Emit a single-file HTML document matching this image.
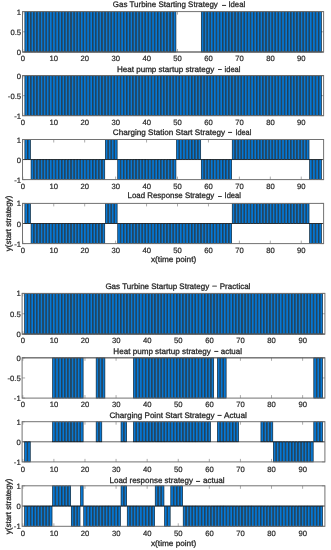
<!DOCTYPE html>
<html><head><meta charset="utf-8"><title>Start strategy charts</title>
<style>html,body{margin:0;padding:0;background:#fff}svg{display:block}text{stroke:#262626;stroke-width:.2px;text-rendering:geometricPrecision}.t text{stroke-width:.28px}</style></head>
<body>
<svg width="331" height="550" viewBox="0 0 331 550" font-family="Liberation Sans, Arial, Helvetica, sans-serif" fill="#262626">
<rect width="331" height="550" fill="#fff"/>
<path d="M22.80 52.00v-3M22.80 11.60v3M53.74 52.00v-3M53.74 11.60v3M84.68 52.00v-3M84.68 11.60v3M115.62 52.00v-3M115.62 11.60v3M146.56 52.00v-3M146.56 11.60v3M177.50 52.00v-3M177.50 11.60v3M208.44 52.00v-3M208.44 11.60v3M239.38 52.00v-3M239.38 11.60v3M270.32 52.00v-3M270.32 11.60v3M301.26 52.00v-3M301.26 11.60v3M22.50 52.00h3M323.60 52.00h-3M22.50 31.80h3M323.60 31.80h-3M22.50 11.60h3M323.60 11.60h-3" stroke="#727272" stroke-width="0.6" fill="none"/>
<g fill="#0a78d2" stroke="#051c2c" stroke-width="0.66"><rect x="24.89" y="11.60" width="2.48" height="40.40"/><rect x="27.98" y="11.60" width="2.48" height="40.40"/><rect x="31.08" y="11.60" width="2.48" height="40.40"/><rect x="34.17" y="11.60" width="2.48" height="40.40"/><rect x="37.27" y="11.60" width="2.48" height="40.40"/><rect x="40.36" y="11.60" width="2.48" height="40.40"/><rect x="43.46" y="11.60" width="2.48" height="40.40"/><rect x="46.55" y="11.60" width="2.48" height="40.40"/><rect x="49.65" y="11.60" width="2.48" height="40.40"/><rect x="52.74" y="11.60" width="2.48" height="40.40"/><rect x="55.84" y="11.60" width="2.48" height="40.40"/><rect x="58.93" y="11.60" width="2.48" height="40.40"/><rect x="62.03" y="11.60" width="2.48" height="40.40"/><rect x="65.12" y="11.60" width="2.48" height="40.40"/><rect x="68.22" y="11.60" width="2.48" height="40.40"/><rect x="71.31" y="11.60" width="2.48" height="40.40"/><rect x="74.41" y="11.60" width="2.48" height="40.40"/><rect x="77.50" y="11.60" width="2.48" height="40.40"/><rect x="80.60" y="11.60" width="2.48" height="40.40"/><rect x="83.69" y="11.60" width="2.48" height="40.40"/><rect x="86.79" y="11.60" width="2.48" height="40.40"/><rect x="89.88" y="11.60" width="2.48" height="40.40"/><rect x="92.98" y="11.60" width="2.48" height="40.40"/><rect x="96.07" y="11.60" width="2.48" height="40.40"/><rect x="99.17" y="11.60" width="2.48" height="40.40"/><rect x="102.26" y="11.60" width="2.48" height="40.40"/><rect x="105.36" y="11.60" width="2.48" height="40.40"/><rect x="108.45" y="11.60" width="2.48" height="40.40"/><rect x="111.55" y="11.60" width="2.48" height="40.40"/><rect x="114.64" y="11.60" width="2.48" height="40.40"/><rect x="117.74" y="11.60" width="2.48" height="40.40"/><rect x="120.83" y="11.60" width="2.48" height="40.40"/><rect x="123.93" y="11.60" width="2.48" height="40.40"/><rect x="127.02" y="11.60" width="2.48" height="40.40"/><rect x="130.12" y="11.60" width="2.48" height="40.40"/><rect x="133.21" y="11.60" width="2.48" height="40.40"/><rect x="136.31" y="11.60" width="2.48" height="40.40"/><rect x="139.40" y="11.60" width="2.48" height="40.40"/><rect x="142.50" y="11.60" width="2.48" height="40.40"/><rect x="145.59" y="11.60" width="2.48" height="40.40"/><rect x="148.69" y="11.60" width="2.48" height="40.40"/><rect x="151.78" y="11.60" width="2.48" height="40.40"/><rect x="154.88" y="11.60" width="2.48" height="40.40"/><rect x="157.97" y="11.60" width="2.48" height="40.40"/><rect x="161.07" y="11.60" width="2.48" height="40.40"/><rect x="164.16" y="11.60" width="2.48" height="40.40"/><rect x="167.26" y="11.60" width="2.48" height="40.40"/><rect x="170.35" y="11.60" width="2.48" height="40.40"/><rect x="173.45" y="11.60" width="2.48" height="40.40"/><rect x="201.30" y="11.60" width="2.48" height="40.40"/><rect x="204.40" y="11.60" width="2.48" height="40.40"/><rect x="207.49" y="11.60" width="2.48" height="40.40"/><rect x="210.59" y="11.60" width="2.48" height="40.40"/><rect x="213.68" y="11.60" width="2.48" height="40.40"/><rect x="216.78" y="11.60" width="2.48" height="40.40"/><rect x="219.87" y="11.60" width="2.48" height="40.40"/><rect x="222.97" y="11.60" width="2.48" height="40.40"/><rect x="226.06" y="11.60" width="2.48" height="40.40"/><rect x="229.16" y="11.60" width="2.48" height="40.40"/><rect x="232.25" y="11.60" width="2.48" height="40.40"/><rect x="235.35" y="11.60" width="2.48" height="40.40"/><rect x="238.44" y="11.60" width="2.48" height="40.40"/><rect x="241.54" y="11.60" width="2.48" height="40.40"/><rect x="244.63" y="11.60" width="2.48" height="40.40"/><rect x="247.73" y="11.60" width="2.48" height="40.40"/><rect x="250.82" y="11.60" width="2.48" height="40.40"/><rect x="253.92" y="11.60" width="2.48" height="40.40"/><rect x="257.01" y="11.60" width="2.48" height="40.40"/><rect x="260.11" y="11.60" width="2.48" height="40.40"/><rect x="263.20" y="11.60" width="2.48" height="40.40"/><rect x="266.30" y="11.60" width="2.48" height="40.40"/><rect x="269.39" y="11.60" width="2.48" height="40.40"/><rect x="272.49" y="11.60" width="2.48" height="40.40"/><rect x="275.58" y="11.60" width="2.48" height="40.40"/><rect x="278.68" y="11.60" width="2.48" height="40.40"/><rect x="281.77" y="11.60" width="2.48" height="40.40"/><rect x="284.87" y="11.60" width="2.48" height="40.40"/><rect x="287.96" y="11.60" width="2.48" height="40.40"/><rect x="291.06" y="11.60" width="2.48" height="40.40"/><rect x="294.15" y="11.60" width="2.48" height="40.40"/><rect x="297.25" y="11.60" width="2.48" height="40.40"/><rect x="300.34" y="11.60" width="2.48" height="40.40"/><rect x="303.44" y="11.60" width="2.48" height="40.40"/><rect x="306.53" y="11.60" width="2.48" height="40.40"/><rect x="309.63" y="11.60" width="2.48" height="40.40"/><rect x="312.72" y="11.60" width="2.48" height="40.40"/><rect x="315.82" y="11.60" width="2.48" height="40.40"/><rect x="318.91" y="11.60" width="2.48" height="40.40"/></g>
<path d="M22.50 52.00H323.60" stroke="#222" stroke-width="0.7" fill="none"/>
<rect x="22.50" y="11.60" width="301.10" height="40.40" fill="none" stroke="#727272" stroke-width="1"/>
<g font-size="7.7" text-anchor="middle"><text transform="translate(22.90 61) scale(1 1)">0</text><text transform="translate(53.84 61) scale(1 1)">10</text><text transform="translate(84.78 61) scale(1 1)">20</text><text transform="translate(115.72 61) scale(1 1)">30</text><text transform="translate(146.66 61) scale(1 1)">40</text><text transform="translate(177.60 61) scale(1 1)">50</text><text transform="translate(208.54 61) scale(1 1)">60</text><text transform="translate(239.48 61) scale(1 1)">70</text><text transform="translate(270.42 61) scale(1 1)">80</text><text transform="translate(301.36 61) scale(1 1)">90</text></g>
<g font-size="7.7" text-anchor="end"><text transform="translate(21.10 55.00) scale(1 1)">0</text><text transform="translate(21.10 34.80) scale(1 1)">0.5</text><text transform="translate(21.10 14.60) scale(1 1)">1</text></g>
<path d="M22.80 115.70v-3M22.80 75.60v3M53.74 115.70v-3M53.74 75.60v3M84.68 115.70v-3M84.68 75.60v3M115.62 115.70v-3M115.62 75.60v3M146.56 115.70v-3M146.56 75.60v3M177.50 115.70v-3M177.50 75.60v3M208.44 115.70v-3M208.44 75.60v3M239.38 115.70v-3M239.38 75.60v3M270.32 115.70v-3M270.32 75.60v3M301.26 115.70v-3M301.26 75.60v3M22.50 115.70h3M323.60 115.70h-3M22.50 95.65h3M323.60 95.65h-3M22.50 75.60h3M323.60 75.60h-3" stroke="#727272" stroke-width="0.6" fill="none"/>
<g fill="#0a78d2" stroke="#051c2c" stroke-width="0.66"><rect x="24.89" y="75.60" width="2.48" height="40.10"/><rect x="27.98" y="75.60" width="2.48" height="40.10"/><rect x="31.08" y="75.60" width="2.48" height="40.10"/><rect x="34.17" y="75.60" width="2.48" height="40.10"/><rect x="37.27" y="75.60" width="2.48" height="40.10"/><rect x="40.36" y="75.60" width="2.48" height="40.10"/><rect x="43.46" y="75.60" width="2.48" height="40.10"/><rect x="46.55" y="75.60" width="2.48" height="40.10"/><rect x="49.65" y="75.60" width="2.48" height="40.10"/><rect x="52.74" y="75.60" width="2.48" height="40.10"/><rect x="55.84" y="75.60" width="2.48" height="40.10"/><rect x="58.93" y="75.60" width="2.48" height="40.10"/><rect x="62.03" y="75.60" width="2.48" height="40.10"/><rect x="65.12" y="75.60" width="2.48" height="40.10"/><rect x="68.22" y="75.60" width="2.48" height="40.10"/><rect x="71.31" y="75.60" width="2.48" height="40.10"/><rect x="74.41" y="75.60" width="2.48" height="40.10"/><rect x="77.50" y="75.60" width="2.48" height="40.10"/><rect x="80.60" y="75.60" width="2.48" height="40.10"/><rect x="83.69" y="75.60" width="2.48" height="40.10"/><rect x="86.79" y="75.60" width="2.48" height="40.10"/><rect x="89.88" y="75.60" width="2.48" height="40.10"/><rect x="92.98" y="75.60" width="2.48" height="40.10"/><rect x="96.07" y="75.60" width="2.48" height="40.10"/><rect x="99.17" y="75.60" width="2.48" height="40.10"/><rect x="102.26" y="75.60" width="2.48" height="40.10"/><rect x="105.36" y="75.60" width="2.48" height="40.10"/><rect x="108.45" y="75.60" width="2.48" height="40.10"/><rect x="111.55" y="75.60" width="2.48" height="40.10"/><rect x="114.64" y="75.60" width="2.48" height="40.10"/><rect x="117.74" y="75.60" width="2.48" height="40.10"/><rect x="120.83" y="75.60" width="2.48" height="40.10"/><rect x="123.93" y="75.60" width="2.48" height="40.10"/><rect x="127.02" y="75.60" width="2.48" height="40.10"/><rect x="130.12" y="75.60" width="2.48" height="40.10"/><rect x="133.21" y="75.60" width="2.48" height="40.10"/><rect x="136.31" y="75.60" width="2.48" height="40.10"/><rect x="139.40" y="75.60" width="2.48" height="40.10"/><rect x="142.50" y="75.60" width="2.48" height="40.10"/><rect x="145.59" y="75.60" width="2.48" height="40.10"/><rect x="148.69" y="75.60" width="2.48" height="40.10"/><rect x="151.78" y="75.60" width="2.48" height="40.10"/><rect x="154.88" y="75.60" width="2.48" height="40.10"/><rect x="157.97" y="75.60" width="2.48" height="40.10"/><rect x="161.07" y="75.60" width="2.48" height="40.10"/><rect x="164.16" y="75.60" width="2.48" height="40.10"/><rect x="167.26" y="75.60" width="2.48" height="40.10"/><rect x="170.35" y="75.60" width="2.48" height="40.10"/><rect x="173.45" y="75.60" width="2.48" height="40.10"/><rect x="176.54" y="75.60" width="2.48" height="40.10"/><rect x="179.64" y="75.60" width="2.48" height="40.10"/><rect x="182.73" y="75.60" width="2.48" height="40.10"/><rect x="185.83" y="75.60" width="2.48" height="40.10"/><rect x="188.92" y="75.60" width="2.48" height="40.10"/><rect x="192.02" y="75.60" width="2.48" height="40.10"/><rect x="195.11" y="75.60" width="2.48" height="40.10"/><rect x="198.21" y="75.60" width="2.48" height="40.10"/><rect x="201.30" y="75.60" width="2.48" height="40.10"/><rect x="204.40" y="75.60" width="2.48" height="40.10"/><rect x="207.49" y="75.60" width="2.48" height="40.10"/><rect x="210.59" y="75.60" width="2.48" height="40.10"/><rect x="213.68" y="75.60" width="2.48" height="40.10"/><rect x="216.78" y="75.60" width="2.48" height="40.10"/><rect x="219.87" y="75.60" width="2.48" height="40.10"/><rect x="222.97" y="75.60" width="2.48" height="40.10"/><rect x="226.06" y="75.60" width="2.48" height="40.10"/><rect x="229.16" y="75.60" width="2.48" height="40.10"/><rect x="232.25" y="75.60" width="2.48" height="40.10"/><rect x="235.35" y="75.60" width="2.48" height="40.10"/><rect x="238.44" y="75.60" width="2.48" height="40.10"/><rect x="241.54" y="75.60" width="2.48" height="40.10"/><rect x="244.63" y="75.60" width="2.48" height="40.10"/><rect x="247.73" y="75.60" width="2.48" height="40.10"/><rect x="250.82" y="75.60" width="2.48" height="40.10"/><rect x="253.92" y="75.60" width="2.48" height="40.10"/><rect x="257.01" y="75.60" width="2.48" height="40.10"/><rect x="260.11" y="75.60" width="2.48" height="40.10"/><rect x="263.20" y="75.60" width="2.48" height="40.10"/><rect x="266.30" y="75.60" width="2.48" height="40.10"/><rect x="269.39" y="75.60" width="2.48" height="40.10"/><rect x="272.49" y="75.60" width="2.48" height="40.10"/><rect x="275.58" y="75.60" width="2.48" height="40.10"/><rect x="278.68" y="75.60" width="2.48" height="40.10"/><rect x="281.77" y="75.60" width="2.48" height="40.10"/><rect x="284.87" y="75.60" width="2.48" height="40.10"/><rect x="287.96" y="75.60" width="2.48" height="40.10"/><rect x="291.06" y="75.60" width="2.48" height="40.10"/><rect x="294.15" y="75.60" width="2.48" height="40.10"/><rect x="297.25" y="75.60" width="2.48" height="40.10"/><rect x="300.34" y="75.60" width="2.48" height="40.10"/><rect x="303.44" y="75.60" width="2.48" height="40.10"/><rect x="306.53" y="75.60" width="2.48" height="40.10"/><rect x="309.63" y="75.60" width="2.48" height="40.10"/><rect x="312.72" y="75.60" width="2.48" height="40.10"/><rect x="315.82" y="75.60" width="2.48" height="40.10"/><rect x="318.91" y="75.60" width="2.48" height="40.10"/></g>
<path d="M22.50 75.60H323.60" stroke="#222" stroke-width="0.7" fill="none"/>
<rect x="22.50" y="75.60" width="301.10" height="40.10" fill="none" stroke="#727272" stroke-width="1"/>
<g font-size="7.7" text-anchor="middle"><text transform="translate(22.90 125) scale(1 1)">0</text><text transform="translate(53.84 125) scale(1 1)">10</text><text transform="translate(84.78 125) scale(1 1)">20</text><text transform="translate(115.72 125) scale(1 1)">30</text><text transform="translate(146.66 125) scale(1 1)">40</text><text transform="translate(177.60 125) scale(1 1)">50</text><text transform="translate(208.54 125) scale(1 1)">60</text><text transform="translate(239.48 125) scale(1 1)">70</text><text transform="translate(270.42 125) scale(1 1)">80</text><text transform="translate(301.36 125) scale(1 1)">90</text></g>
<g font-size="7.7" text-anchor="end"><text transform="translate(21.10 118.70) scale(1 1)">-1</text><text transform="translate(21.10 98.65) scale(1 1)">-0.5</text><text transform="translate(21.10 78.60) scale(1 1)">0</text></g>
<path d="M22.80 179.60v-3M22.80 139.50v3M53.74 179.60v-3M53.74 139.50v3M84.68 179.60v-3M84.68 139.50v3M115.62 179.60v-3M115.62 139.50v3M146.56 179.60v-3M146.56 139.50v3M177.50 179.60v-3M177.50 139.50v3M208.44 179.60v-3M208.44 139.50v3M239.38 179.60v-3M239.38 139.50v3M270.32 179.60v-3M270.32 139.50v3M301.26 179.60v-3M301.26 139.50v3M22.50 179.60h3M323.60 179.60h-3M22.50 159.55h3M323.60 159.55h-3M22.50 139.50h3M323.60 139.50h-3" stroke="#727272" stroke-width="0.6" fill="none"/>
<g fill="#0a78d2" stroke="#051c2c" stroke-width="0.66"><rect x="24.89" y="139.50" width="2.48" height="20.05"/><rect x="27.98" y="139.50" width="2.48" height="20.05"/><rect x="105.36" y="139.50" width="2.48" height="20.05"/><rect x="108.45" y="139.50" width="2.48" height="20.05"/><rect x="111.55" y="139.50" width="2.48" height="20.05"/><rect x="114.64" y="139.50" width="2.48" height="20.05"/><rect x="176.54" y="139.50" width="2.48" height="20.05"/><rect x="179.64" y="139.50" width="2.48" height="20.05"/><rect x="182.73" y="139.50" width="2.48" height="20.05"/><rect x="185.83" y="139.50" width="2.48" height="20.05"/><rect x="188.92" y="139.50" width="2.48" height="20.05"/><rect x="192.02" y="139.50" width="2.48" height="20.05"/><rect x="195.11" y="139.50" width="2.48" height="20.05"/><rect x="198.21" y="139.50" width="2.48" height="20.05"/><rect x="232.25" y="139.50" width="2.48" height="20.05"/><rect x="235.35" y="139.50" width="2.48" height="20.05"/><rect x="238.44" y="139.50" width="2.48" height="20.05"/><rect x="241.54" y="139.50" width="2.48" height="20.05"/><rect x="244.63" y="139.50" width="2.48" height="20.05"/><rect x="247.73" y="139.50" width="2.48" height="20.05"/><rect x="250.82" y="139.50" width="2.48" height="20.05"/><rect x="253.92" y="139.50" width="2.48" height="20.05"/><rect x="257.01" y="139.50" width="2.48" height="20.05"/><rect x="260.11" y="139.50" width="2.48" height="20.05"/><rect x="263.20" y="139.50" width="2.48" height="20.05"/><rect x="266.30" y="139.50" width="2.48" height="20.05"/><rect x="269.39" y="139.50" width="2.48" height="20.05"/><rect x="272.49" y="139.50" width="2.48" height="20.05"/><rect x="275.58" y="139.50" width="2.48" height="20.05"/><rect x="278.68" y="139.50" width="2.48" height="20.05"/><rect x="281.77" y="139.50" width="2.48" height="20.05"/><rect x="284.87" y="139.50" width="2.48" height="20.05"/><rect x="287.96" y="139.50" width="2.48" height="20.05"/><rect x="291.06" y="139.50" width="2.48" height="20.05"/><rect x="294.15" y="139.50" width="2.48" height="20.05"/><rect x="297.25" y="139.50" width="2.48" height="20.05"/><rect x="300.34" y="139.50" width="2.48" height="20.05"/><rect x="303.44" y="139.50" width="2.48" height="20.05"/><rect x="306.53" y="139.50" width="2.48" height="20.05"/><rect x="31.08" y="159.55" width="2.48" height="20.05"/><rect x="34.17" y="159.55" width="2.48" height="20.05"/><rect x="37.27" y="159.55" width="2.48" height="20.05"/><rect x="40.36" y="159.55" width="2.48" height="20.05"/><rect x="43.46" y="159.55" width="2.48" height="20.05"/><rect x="46.55" y="159.55" width="2.48" height="20.05"/><rect x="49.65" y="159.55" width="2.48" height="20.05"/><rect x="52.74" y="159.55" width="2.48" height="20.05"/><rect x="55.84" y="159.55" width="2.48" height="20.05"/><rect x="58.93" y="159.55" width="2.48" height="20.05"/><rect x="62.03" y="159.55" width="2.48" height="20.05"/><rect x="65.12" y="159.55" width="2.48" height="20.05"/><rect x="68.22" y="159.55" width="2.48" height="20.05"/><rect x="71.31" y="159.55" width="2.48" height="20.05"/><rect x="74.41" y="159.55" width="2.48" height="20.05"/><rect x="77.50" y="159.55" width="2.48" height="20.05"/><rect x="80.60" y="159.55" width="2.48" height="20.05"/><rect x="83.69" y="159.55" width="2.48" height="20.05"/><rect x="86.79" y="159.55" width="2.48" height="20.05"/><rect x="89.88" y="159.55" width="2.48" height="20.05"/><rect x="92.98" y="159.55" width="2.48" height="20.05"/><rect x="96.07" y="159.55" width="2.48" height="20.05"/><rect x="99.17" y="159.55" width="2.48" height="20.05"/><rect x="102.26" y="159.55" width="2.48" height="20.05"/><rect x="117.74" y="159.55" width="2.48" height="20.05"/><rect x="120.83" y="159.55" width="2.48" height="20.05"/><rect x="123.93" y="159.55" width="2.48" height="20.05"/><rect x="127.02" y="159.55" width="2.48" height="20.05"/><rect x="130.12" y="159.55" width="2.48" height="20.05"/><rect x="133.21" y="159.55" width="2.48" height="20.05"/><rect x="136.31" y="159.55" width="2.48" height="20.05"/><rect x="139.40" y="159.55" width="2.48" height="20.05"/><rect x="142.50" y="159.55" width="2.48" height="20.05"/><rect x="145.59" y="159.55" width="2.48" height="20.05"/><rect x="148.69" y="159.55" width="2.48" height="20.05"/><rect x="151.78" y="159.55" width="2.48" height="20.05"/><rect x="154.88" y="159.55" width="2.48" height="20.05"/><rect x="157.97" y="159.55" width="2.48" height="20.05"/><rect x="161.07" y="159.55" width="2.48" height="20.05"/><rect x="164.16" y="159.55" width="2.48" height="20.05"/><rect x="167.26" y="159.55" width="2.48" height="20.05"/><rect x="170.35" y="159.55" width="2.48" height="20.05"/><rect x="173.45" y="159.55" width="2.48" height="20.05"/><rect x="201.30" y="159.55" width="2.48" height="20.05"/><rect x="204.40" y="159.55" width="2.48" height="20.05"/><rect x="207.49" y="159.55" width="2.48" height="20.05"/><rect x="210.59" y="159.55" width="2.48" height="20.05"/><rect x="213.68" y="159.55" width="2.48" height="20.05"/><rect x="216.78" y="159.55" width="2.48" height="20.05"/><rect x="219.87" y="159.55" width="2.48" height="20.05"/><rect x="222.97" y="159.55" width="2.48" height="20.05"/><rect x="226.06" y="159.55" width="2.48" height="20.05"/><rect x="229.16" y="159.55" width="2.48" height="20.05"/><rect x="309.63" y="159.55" width="2.48" height="20.05"/><rect x="312.72" y="159.55" width="2.48" height="20.05"/><rect x="315.82" y="159.55" width="2.48" height="20.05"/><rect x="318.91" y="159.55" width="2.48" height="20.05"/></g>
<path d="M22.50 159.55H323.60" stroke="#222" stroke-width="0.7" fill="none"/>
<rect x="22.50" y="139.50" width="301.10" height="40.10" fill="none" stroke="#727272" stroke-width="1"/>
<g font-size="7.7" text-anchor="middle"><text transform="translate(22.90 189) scale(1 1)">0</text><text transform="translate(53.84 189) scale(1 1)">10</text><text transform="translate(84.78 189) scale(1 1)">20</text><text transform="translate(115.72 189) scale(1 1)">30</text><text transform="translate(146.66 189) scale(1 1)">40</text><text transform="translate(177.60 189) scale(1 1)">50</text><text transform="translate(208.54 189) scale(1 1)">60</text><text transform="translate(239.48 189) scale(1 1)">70</text><text transform="translate(270.42 189) scale(1 1)">80</text><text transform="translate(301.36 189) scale(1 1)">90</text></g>
<g font-size="7.7" text-anchor="end"><text transform="translate(21.10 182.60) scale(1 1)">-1</text><text transform="translate(21.10 162.55) scale(1 1)">0</text><text transform="translate(21.10 142.50) scale(1 1)">1</text></g>
<path d="M22.80 243.60v-3M22.80 203.40v3M53.74 243.60v-3M53.74 203.40v3M84.68 243.60v-3M84.68 203.40v3M115.62 243.60v-3M115.62 203.40v3M146.56 243.60v-3M146.56 203.40v3M177.50 243.60v-3M177.50 203.40v3M208.44 243.60v-3M208.44 203.40v3M239.38 243.60v-3M239.38 203.40v3M270.32 243.60v-3M270.32 203.40v3M301.26 243.60v-3M301.26 203.40v3M22.50 243.60h3M323.60 243.60h-3M22.50 223.50h3M323.60 223.50h-3M22.50 203.40h3M323.60 203.40h-3" stroke="#727272" stroke-width="0.6" fill="none"/>
<g fill="#0a78d2" stroke="#051c2c" stroke-width="0.66"><rect x="24.89" y="203.40" width="2.48" height="20.10"/><rect x="27.98" y="203.40" width="2.48" height="20.10"/><rect x="105.36" y="203.40" width="2.48" height="20.10"/><rect x="108.45" y="203.40" width="2.48" height="20.10"/><rect x="111.55" y="203.40" width="2.48" height="20.10"/><rect x="114.64" y="203.40" width="2.48" height="20.10"/><rect x="232.25" y="203.40" width="2.48" height="20.10"/><rect x="235.35" y="203.40" width="2.48" height="20.10"/><rect x="238.44" y="203.40" width="2.48" height="20.10"/><rect x="241.54" y="203.40" width="2.48" height="20.10"/><rect x="244.63" y="203.40" width="2.48" height="20.10"/><rect x="247.73" y="203.40" width="2.48" height="20.10"/><rect x="250.82" y="203.40" width="2.48" height="20.10"/><rect x="253.92" y="203.40" width="2.48" height="20.10"/><rect x="257.01" y="203.40" width="2.48" height="20.10"/><rect x="260.11" y="203.40" width="2.48" height="20.10"/><rect x="263.20" y="203.40" width="2.48" height="20.10"/><rect x="266.30" y="203.40" width="2.48" height="20.10"/><rect x="269.39" y="203.40" width="2.48" height="20.10"/><rect x="272.49" y="203.40" width="2.48" height="20.10"/><rect x="275.58" y="203.40" width="2.48" height="20.10"/><rect x="278.68" y="203.40" width="2.48" height="20.10"/><rect x="281.77" y="203.40" width="2.48" height="20.10"/><rect x="284.87" y="203.40" width="2.48" height="20.10"/><rect x="287.96" y="203.40" width="2.48" height="20.10"/><rect x="291.06" y="203.40" width="2.48" height="20.10"/><rect x="294.15" y="203.40" width="2.48" height="20.10"/><rect x="297.25" y="203.40" width="2.48" height="20.10"/><rect x="300.34" y="203.40" width="2.48" height="20.10"/><rect x="303.44" y="203.40" width="2.48" height="20.10"/><rect x="306.53" y="203.40" width="2.48" height="20.10"/><rect x="31.08" y="223.50" width="2.48" height="20.10"/><rect x="34.17" y="223.50" width="2.48" height="20.10"/><rect x="37.27" y="223.50" width="2.48" height="20.10"/><rect x="40.36" y="223.50" width="2.48" height="20.10"/><rect x="43.46" y="223.50" width="2.48" height="20.10"/><rect x="46.55" y="223.50" width="2.48" height="20.10"/><rect x="49.65" y="223.50" width="2.48" height="20.10"/><rect x="52.74" y="223.50" width="2.48" height="20.10"/><rect x="55.84" y="223.50" width="2.48" height="20.10"/><rect x="58.93" y="223.50" width="2.48" height="20.10"/><rect x="62.03" y="223.50" width="2.48" height="20.10"/><rect x="65.12" y="223.50" width="2.48" height="20.10"/><rect x="68.22" y="223.50" width="2.48" height="20.10"/><rect x="71.31" y="223.50" width="2.48" height="20.10"/><rect x="74.41" y="223.50" width="2.48" height="20.10"/><rect x="77.50" y="223.50" width="2.48" height="20.10"/><rect x="80.60" y="223.50" width="2.48" height="20.10"/><rect x="83.69" y="223.50" width="2.48" height="20.10"/><rect x="86.79" y="223.50" width="2.48" height="20.10"/><rect x="89.88" y="223.50" width="2.48" height="20.10"/><rect x="92.98" y="223.50" width="2.48" height="20.10"/><rect x="96.07" y="223.50" width="2.48" height="20.10"/><rect x="99.17" y="223.50" width="2.48" height="20.10"/><rect x="102.26" y="223.50" width="2.48" height="20.10"/><rect x="117.74" y="223.50" width="2.48" height="20.10"/><rect x="120.83" y="223.50" width="2.48" height="20.10"/><rect x="123.93" y="223.50" width="2.48" height="20.10"/><rect x="127.02" y="223.50" width="2.48" height="20.10"/><rect x="130.12" y="223.50" width="2.48" height="20.10"/><rect x="133.21" y="223.50" width="2.48" height="20.10"/><rect x="136.31" y="223.50" width="2.48" height="20.10"/><rect x="139.40" y="223.50" width="2.48" height="20.10"/><rect x="142.50" y="223.50" width="2.48" height="20.10"/><rect x="145.59" y="223.50" width="2.48" height="20.10"/><rect x="148.69" y="223.50" width="2.48" height="20.10"/><rect x="151.78" y="223.50" width="2.48" height="20.10"/><rect x="154.88" y="223.50" width="2.48" height="20.10"/><rect x="157.97" y="223.50" width="2.48" height="20.10"/><rect x="161.07" y="223.50" width="2.48" height="20.10"/><rect x="164.16" y="223.50" width="2.48" height="20.10"/><rect x="167.26" y="223.50" width="2.48" height="20.10"/><rect x="170.35" y="223.50" width="2.48" height="20.10"/><rect x="173.45" y="223.50" width="2.48" height="20.10"/><rect x="176.54" y="223.50" width="2.48" height="20.10"/><rect x="179.64" y="223.50" width="2.48" height="20.10"/><rect x="182.73" y="223.50" width="2.48" height="20.10"/><rect x="185.83" y="223.50" width="2.48" height="20.10"/><rect x="188.92" y="223.50" width="2.48" height="20.10"/><rect x="192.02" y="223.50" width="2.48" height="20.10"/><rect x="195.11" y="223.50" width="2.48" height="20.10"/><rect x="198.21" y="223.50" width="2.48" height="20.10"/><rect x="201.30" y="223.50" width="2.48" height="20.10"/><rect x="204.40" y="223.50" width="2.48" height="20.10"/><rect x="207.49" y="223.50" width="2.48" height="20.10"/><rect x="210.59" y="223.50" width="2.48" height="20.10"/><rect x="213.68" y="223.50" width="2.48" height="20.10"/><rect x="216.78" y="223.50" width="2.48" height="20.10"/><rect x="219.87" y="223.50" width="2.48" height="20.10"/><rect x="222.97" y="223.50" width="2.48" height="20.10"/><rect x="226.06" y="223.50" width="2.48" height="20.10"/><rect x="229.16" y="223.50" width="2.48" height="20.10"/><rect x="309.63" y="223.50" width="2.48" height="20.10"/><rect x="312.72" y="223.50" width="2.48" height="20.10"/><rect x="315.82" y="223.50" width="2.48" height="20.10"/><rect x="318.91" y="223.50" width="2.48" height="20.10"/></g>
<path d="M22.50 223.50H323.60" stroke="#222" stroke-width="0.7" fill="none"/>
<rect x="22.50" y="203.40" width="301.10" height="40.20" fill="none" stroke="#727272" stroke-width="1"/>
<g font-size="7.7" text-anchor="middle"><text transform="translate(22.90 253) scale(1 1)">0</text><text transform="translate(53.84 253) scale(1 1)">10</text><text transform="translate(84.78 253) scale(1 1)">20</text><text transform="translate(115.72 253) scale(1 1)">30</text><text transform="translate(146.66 253) scale(1 1)">40</text><text transform="translate(177.60 253) scale(1 1)">50</text><text transform="translate(208.54 253) scale(1 1)">60</text><text transform="translate(239.48 253) scale(1 1)">70</text><text transform="translate(270.42 253) scale(1 1)">80</text><text transform="translate(301.36 253) scale(1 1)">90</text></g>
<g font-size="7.7" text-anchor="end"><text transform="translate(21.10 246.60) scale(1 1)">-1</text><text transform="translate(21.10 226.50) scale(1 1)">0</text><text transform="translate(21.10 206.40) scale(1 1)">1</text></g>
<path d="M22.80 334.10v-3M22.80 293.40v3M53.89 334.10v-3M53.89 293.40v3M84.98 334.10v-3M84.98 293.40v3M116.07 334.10v-3M116.07 293.40v3M147.16 334.10v-3M147.16 293.40v3M178.25 334.10v-3M178.25 293.40v3M209.34 334.10v-3M209.34 293.40v3M240.43 334.10v-3M240.43 293.40v3M271.52 334.10v-3M271.52 293.40v3M302.61 334.10v-3M302.61 293.40v3M22.10 334.10h3M324.90 334.10h-3M22.10 313.75h3M324.90 313.75h-3M22.10 293.40h3M324.90 293.40h-3" stroke="#727272" stroke-width="0.6" fill="none"/>
<g fill="#0a78d2" stroke="#051c2c" stroke-width="0.66"><rect x="24.67" y="293.40" width="2.49" height="40.70"/><rect x="27.77" y="293.40" width="2.49" height="40.70"/><rect x="30.88" y="293.40" width="2.49" height="40.70"/><rect x="33.99" y="293.40" width="2.49" height="40.70"/><rect x="37.10" y="293.40" width="2.49" height="40.70"/><rect x="40.21" y="293.40" width="2.49" height="40.70"/><rect x="43.32" y="293.40" width="2.49" height="40.70"/><rect x="46.43" y="293.40" width="2.49" height="40.70"/><rect x="49.54" y="293.40" width="2.49" height="40.70"/><rect x="52.65" y="293.40" width="2.49" height="40.70"/><rect x="55.76" y="293.40" width="2.49" height="40.70"/><rect x="58.86" y="293.40" width="2.49" height="40.70"/><rect x="61.97" y="293.40" width="2.49" height="40.70"/><rect x="65.08" y="293.40" width="2.49" height="40.70"/><rect x="68.19" y="293.40" width="2.49" height="40.70"/><rect x="71.30" y="293.40" width="2.49" height="40.70"/><rect x="74.41" y="293.40" width="2.49" height="40.70"/><rect x="77.52" y="293.40" width="2.49" height="40.70"/><rect x="80.63" y="293.40" width="2.49" height="40.70"/><rect x="83.74" y="293.40" width="2.49" height="40.70"/><rect x="86.85" y="293.40" width="2.49" height="40.70"/><rect x="89.95" y="293.40" width="2.49" height="40.70"/><rect x="93.06" y="293.40" width="2.49" height="40.70"/><rect x="96.17" y="293.40" width="2.49" height="40.70"/><rect x="99.28" y="293.40" width="2.49" height="40.70"/><rect x="102.39" y="293.40" width="2.49" height="40.70"/><rect x="105.50" y="293.40" width="2.49" height="40.70"/><rect x="108.61" y="293.40" width="2.49" height="40.70"/><rect x="111.72" y="293.40" width="2.49" height="40.70"/><rect x="114.83" y="293.40" width="2.49" height="40.70"/><rect x="117.94" y="293.40" width="2.49" height="40.70"/><rect x="121.04" y="293.40" width="2.49" height="40.70"/><rect x="124.15" y="293.40" width="2.49" height="40.70"/><rect x="127.26" y="293.40" width="2.49" height="40.70"/><rect x="130.37" y="293.40" width="2.49" height="40.70"/><rect x="133.48" y="293.40" width="2.49" height="40.70"/><rect x="136.59" y="293.40" width="2.49" height="40.70"/><rect x="139.70" y="293.40" width="2.49" height="40.70"/><rect x="142.81" y="293.40" width="2.49" height="40.70"/><rect x="145.92" y="293.40" width="2.49" height="40.70"/><rect x="149.03" y="293.40" width="2.49" height="40.70"/><rect x="152.13" y="293.40" width="2.49" height="40.70"/><rect x="155.24" y="293.40" width="2.49" height="40.70"/><rect x="158.35" y="293.40" width="2.49" height="40.70"/><rect x="161.46" y="293.40" width="2.49" height="40.70"/><rect x="164.57" y="293.40" width="2.49" height="40.70"/><rect x="167.68" y="293.40" width="2.49" height="40.70"/><rect x="170.79" y="293.40" width="2.49" height="40.70"/><rect x="173.90" y="293.40" width="2.49" height="40.70"/><rect x="177.01" y="293.40" width="2.49" height="40.70"/><rect x="180.12" y="293.40" width="2.49" height="40.70"/><rect x="183.22" y="293.40" width="2.49" height="40.70"/><rect x="186.33" y="293.40" width="2.49" height="40.70"/><rect x="189.44" y="293.40" width="2.49" height="40.70"/><rect x="192.55" y="293.40" width="2.49" height="40.70"/><rect x="195.66" y="293.40" width="2.49" height="40.70"/><rect x="198.77" y="293.40" width="2.49" height="40.70"/><rect x="201.88" y="293.40" width="2.49" height="40.70"/><rect x="204.99" y="293.40" width="2.49" height="40.70"/><rect x="208.10" y="293.40" width="2.49" height="40.70"/><rect x="211.21" y="293.40" width="2.49" height="40.70"/><rect x="214.31" y="293.40" width="2.49" height="40.70"/><rect x="217.42" y="293.40" width="2.49" height="40.70"/><rect x="220.53" y="293.40" width="2.49" height="40.70"/><rect x="223.64" y="293.40" width="2.49" height="40.70"/><rect x="226.75" y="293.40" width="2.49" height="40.70"/><rect x="229.86" y="293.40" width="2.49" height="40.70"/><rect x="232.97" y="293.40" width="2.49" height="40.70"/><rect x="236.08" y="293.40" width="2.49" height="40.70"/><rect x="239.19" y="293.40" width="2.49" height="40.70"/><rect x="242.30" y="293.40" width="2.49" height="40.70"/><rect x="245.40" y="293.40" width="2.49" height="40.70"/><rect x="248.51" y="293.40" width="2.49" height="40.70"/><rect x="251.62" y="293.40" width="2.49" height="40.70"/><rect x="254.73" y="293.40" width="2.49" height="40.70"/><rect x="257.84" y="293.40" width="2.49" height="40.70"/><rect x="260.95" y="293.40" width="2.49" height="40.70"/><rect x="264.06" y="293.40" width="2.49" height="40.70"/><rect x="267.17" y="293.40" width="2.49" height="40.70"/><rect x="270.28" y="293.40" width="2.49" height="40.70"/><rect x="273.39" y="293.40" width="2.49" height="40.70"/><rect x="276.49" y="293.40" width="2.49" height="40.70"/><rect x="279.60" y="293.40" width="2.49" height="40.70"/><rect x="282.71" y="293.40" width="2.49" height="40.70"/><rect x="285.82" y="293.40" width="2.49" height="40.70"/><rect x="288.93" y="293.40" width="2.49" height="40.70"/><rect x="292.04" y="293.40" width="2.49" height="40.70"/><rect x="295.15" y="293.40" width="2.49" height="40.70"/><rect x="298.26" y="293.40" width="2.49" height="40.70"/><rect x="301.37" y="293.40" width="2.49" height="40.70"/><rect x="304.48" y="293.40" width="2.49" height="40.70"/><rect x="307.58" y="293.40" width="2.49" height="40.70"/><rect x="310.69" y="293.40" width="2.49" height="40.70"/><rect x="313.80" y="293.40" width="2.49" height="40.70"/><rect x="316.91" y="293.40" width="2.49" height="40.70"/><rect x="320.02" y="293.40" width="2.49" height="40.70"/></g>
<path d="M22.10 334.10H324.90" stroke="#222" stroke-width="0.7" fill="none"/>
<rect x="22.10" y="293.40" width="302.80" height="40.70" fill="none" stroke="#727272" stroke-width="1"/>
<g font-size="7.7" text-anchor="middle"><text transform="translate(22.90 343) scale(1 1)">0</text><text transform="translate(53.99 343) scale(1 1)">10</text><text transform="translate(85.08 343) scale(1 1)">20</text><text transform="translate(116.17 343) scale(1 1)">30</text><text transform="translate(147.26 343) scale(1 1)">40</text><text transform="translate(178.35 343) scale(1 1)">50</text><text transform="translate(209.44 343) scale(1 1)">60</text><text transform="translate(240.53 343) scale(1 1)">70</text><text transform="translate(271.62 343) scale(1 1)">80</text><text transform="translate(302.71 343) scale(1 1)">90</text></g>
<g font-size="7.7" text-anchor="end"><text transform="translate(20.70 337.10) scale(1 1)">0</text><text transform="translate(20.70 316.75) scale(1 1)">0.5</text><text transform="translate(20.70 296.40) scale(1 1)">1</text></g>
<path d="M22.80 398.10v-3M22.80 357.80v3M53.89 398.10v-3M53.89 357.80v3M84.98 398.10v-3M84.98 357.80v3M116.07 398.10v-3M116.07 357.80v3M147.16 398.10v-3M147.16 357.80v3M178.25 398.10v-3M178.25 357.80v3M209.34 398.10v-3M209.34 357.80v3M240.43 398.10v-3M240.43 357.80v3M271.52 398.10v-3M271.52 357.80v3M302.61 398.10v-3M302.61 357.80v3M22.10 398.10h3M324.90 398.10h-3M22.10 377.95h3M324.90 377.95h-3M22.10 357.80h3M324.90 357.80h-3" stroke="#727272" stroke-width="0.6" fill="none"/>
<g fill="#0a78d2" stroke="#051c2c" stroke-width="0.66"><rect x="52.65" y="357.80" width="2.49" height="40.30"/><rect x="55.76" y="357.80" width="2.49" height="40.30"/><rect x="58.86" y="357.80" width="2.49" height="40.30"/><rect x="61.97" y="357.80" width="2.49" height="40.30"/><rect x="65.08" y="357.80" width="2.49" height="40.30"/><rect x="68.19" y="357.80" width="2.49" height="40.30"/><rect x="71.30" y="357.80" width="2.49" height="40.30"/><rect x="74.41" y="357.80" width="2.49" height="40.30"/><rect x="77.52" y="357.80" width="2.49" height="40.30"/><rect x="80.63" y="357.80" width="2.49" height="40.30"/><rect x="96.17" y="357.80" width="2.49" height="40.30"/><rect x="99.28" y="357.80" width="2.49" height="40.30"/><rect x="102.39" y="357.80" width="2.49" height="40.30"/><rect x="133.48" y="357.80" width="2.49" height="40.30"/><rect x="136.59" y="357.80" width="2.49" height="40.30"/><rect x="139.70" y="357.80" width="2.49" height="40.30"/><rect x="142.81" y="357.80" width="2.49" height="40.30"/><rect x="145.92" y="357.80" width="2.49" height="40.30"/><rect x="149.03" y="357.80" width="2.49" height="40.30"/><rect x="152.13" y="357.80" width="2.49" height="40.30"/><rect x="155.24" y="357.80" width="2.49" height="40.30"/><rect x="158.35" y="357.80" width="2.49" height="40.30"/><rect x="161.46" y="357.80" width="2.49" height="40.30"/><rect x="164.57" y="357.80" width="2.49" height="40.30"/><rect x="167.68" y="357.80" width="2.49" height="40.30"/><rect x="170.79" y="357.80" width="2.49" height="40.30"/><rect x="173.90" y="357.80" width="2.49" height="40.30"/><rect x="177.01" y="357.80" width="2.49" height="40.30"/><rect x="180.12" y="357.80" width="2.49" height="40.30"/><rect x="183.22" y="357.80" width="2.49" height="40.30"/><rect x="186.33" y="357.80" width="2.49" height="40.30"/><rect x="189.44" y="357.80" width="2.49" height="40.30"/><rect x="192.55" y="357.80" width="2.49" height="40.30"/><rect x="195.66" y="357.80" width="2.49" height="40.30"/><rect x="198.77" y="357.80" width="2.49" height="40.30"/><rect x="201.88" y="357.80" width="2.49" height="40.30"/><rect x="204.99" y="357.80" width="2.49" height="40.30"/><rect x="208.10" y="357.80" width="2.49" height="40.30"/><rect x="211.21" y="357.80" width="2.49" height="40.30"/><rect x="217.42" y="357.80" width="2.49" height="40.30"/><rect x="220.53" y="357.80" width="2.49" height="40.30"/><rect x="223.64" y="357.80" width="2.49" height="40.30"/><rect x="313.80" y="357.80" width="2.49" height="40.30"/><rect x="316.91" y="357.80" width="2.49" height="40.30"/><rect x="320.02" y="357.80" width="2.49" height="40.30"/></g>
<path d="M22.10 357.80H324.90" stroke="#222" stroke-width="0.7" fill="none"/>
<rect x="22.10" y="357.80" width="302.80" height="40.30" fill="none" stroke="#727272" stroke-width="1"/>
<g font-size="7.7" text-anchor="middle"><text transform="translate(22.90 407) scale(1 1)">0</text><text transform="translate(53.99 407) scale(1 1)">10</text><text transform="translate(85.08 407) scale(1 1)">20</text><text transform="translate(116.17 407) scale(1 1)">30</text><text transform="translate(147.26 407) scale(1 1)">40</text><text transform="translate(178.35 407) scale(1 1)">50</text><text transform="translate(209.44 407) scale(1 1)">60</text><text transform="translate(240.53 407) scale(1 1)">70</text><text transform="translate(271.62 407) scale(1 1)">80</text><text transform="translate(302.71 407) scale(1 1)">90</text></g>
<g font-size="7.7" text-anchor="end"><text transform="translate(20.70 401.10) scale(1 1)">-1</text><text transform="translate(20.70 380.95) scale(1 1)">-0.5</text><text transform="translate(20.70 360.80) scale(1 1)">0</text></g>
<path d="M22.80 461.90v-3M22.80 421.70v3M53.89 461.90v-3M53.89 421.70v3M84.98 461.90v-3M84.98 421.70v3M116.07 461.90v-3M116.07 421.70v3M147.16 461.90v-3M147.16 421.70v3M178.25 461.90v-3M178.25 421.70v3M209.34 461.90v-3M209.34 421.70v3M240.43 461.90v-3M240.43 421.70v3M271.52 461.90v-3M271.52 421.70v3M302.61 461.90v-3M302.61 421.70v3M22.10 461.90h3M324.90 461.90h-3M22.10 441.80h3M324.90 441.80h-3M22.10 421.70h3M324.90 421.70h-3" stroke="#727272" stroke-width="0.6" fill="none"/>
<g fill="#0a78d2" stroke="#051c2c" stroke-width="0.66"><rect x="52.65" y="421.70" width="2.49" height="20.10"/><rect x="55.76" y="421.70" width="2.49" height="20.10"/><rect x="58.86" y="421.70" width="2.49" height="20.10"/><rect x="61.97" y="421.70" width="2.49" height="20.10"/><rect x="65.08" y="421.70" width="2.49" height="20.10"/><rect x="68.19" y="421.70" width="2.49" height="20.10"/><rect x="71.30" y="421.70" width="2.49" height="20.10"/><rect x="74.41" y="421.70" width="2.49" height="20.10"/><rect x="77.52" y="421.70" width="2.49" height="20.10"/><rect x="80.63" y="421.70" width="2.49" height="20.10"/><rect x="96.17" y="421.70" width="2.49" height="20.10"/><rect x="99.28" y="421.70" width="2.49" height="20.10"/><rect x="121.04" y="421.70" width="2.49" height="20.10"/><rect x="124.15" y="421.70" width="2.49" height="20.10"/><rect x="133.48" y="421.70" width="2.49" height="20.10"/><rect x="136.59" y="421.70" width="2.49" height="20.10"/><rect x="139.70" y="421.70" width="2.49" height="20.10"/><rect x="142.81" y="421.70" width="2.49" height="20.10"/><rect x="145.92" y="421.70" width="2.49" height="20.10"/><rect x="149.03" y="421.70" width="2.49" height="20.10"/><rect x="152.13" y="421.70" width="2.49" height="20.10"/><rect x="155.24" y="421.70" width="2.49" height="20.10"/><rect x="158.35" y="421.70" width="2.49" height="20.10"/><rect x="161.46" y="421.70" width="2.49" height="20.10"/><rect x="164.57" y="421.70" width="2.49" height="20.10"/><rect x="167.68" y="421.70" width="2.49" height="20.10"/><rect x="170.79" y="421.70" width="2.49" height="20.10"/><rect x="173.90" y="421.70" width="2.49" height="20.10"/><rect x="177.01" y="421.70" width="2.49" height="20.10"/><rect x="180.12" y="421.70" width="2.49" height="20.10"/><rect x="183.22" y="421.70" width="2.49" height="20.10"/><rect x="186.33" y="421.70" width="2.49" height="20.10"/><rect x="189.44" y="421.70" width="2.49" height="20.10"/><rect x="192.55" y="421.70" width="2.49" height="20.10"/><rect x="195.66" y="421.70" width="2.49" height="20.10"/><rect x="198.77" y="421.70" width="2.49" height="20.10"/><rect x="201.88" y="421.70" width="2.49" height="20.10"/><rect x="204.99" y="421.70" width="2.49" height="20.10"/><rect x="208.10" y="421.70" width="2.49" height="20.10"/><rect x="217.42" y="421.70" width="2.49" height="20.10"/><rect x="220.53" y="421.70" width="2.49" height="20.10"/><rect x="223.64" y="421.70" width="2.49" height="20.10"/><rect x="226.75" y="421.70" width="2.49" height="20.10"/><rect x="229.86" y="421.70" width="2.49" height="20.10"/><rect x="232.97" y="421.70" width="2.49" height="20.10"/><rect x="236.08" y="421.70" width="2.49" height="20.10"/><rect x="260.95" y="421.70" width="2.49" height="20.10"/><rect x="264.06" y="421.70" width="2.49" height="20.10"/><rect x="267.17" y="421.70" width="2.49" height="20.10"/><rect x="270.28" y="421.70" width="2.49" height="20.10"/><rect x="313.80" y="421.70" width="2.49" height="20.10"/><rect x="316.91" y="421.70" width="2.49" height="20.10"/><rect x="320.02" y="421.70" width="2.49" height="20.10"/><rect x="24.67" y="441.80" width="2.49" height="20.10"/><rect x="27.77" y="441.80" width="2.49" height="20.10"/><rect x="273.39" y="441.80" width="2.49" height="20.10"/><rect x="276.49" y="441.80" width="2.49" height="20.10"/><rect x="279.60" y="441.80" width="2.49" height="20.10"/><rect x="282.71" y="441.80" width="2.49" height="20.10"/><rect x="285.82" y="441.80" width="2.49" height="20.10"/><rect x="288.93" y="441.80" width="2.49" height="20.10"/><rect x="292.04" y="441.80" width="2.49" height="20.10"/><rect x="295.15" y="441.80" width="2.49" height="20.10"/><rect x="298.26" y="441.80" width="2.49" height="20.10"/><rect x="301.37" y="441.80" width="2.49" height="20.10"/><rect x="304.48" y="441.80" width="2.49" height="20.10"/><rect x="307.58" y="441.80" width="2.49" height="20.10"/><rect x="310.69" y="441.80" width="2.49" height="20.10"/></g>
<path d="M22.10 441.80H324.90" stroke="#222" stroke-width="0.7" fill="none"/>
<rect x="22.10" y="421.70" width="302.80" height="40.20" fill="none" stroke="#727272" stroke-width="1"/>
<g font-size="7.7" text-anchor="middle"><text transform="translate(22.90 472) scale(1 1)">0</text><text transform="translate(53.99 472) scale(1 1)">10</text><text transform="translate(85.08 472) scale(1 1)">20</text><text transform="translate(116.17 472) scale(1 1)">30</text><text transform="translate(147.26 472) scale(1 1)">40</text><text transform="translate(178.35 472) scale(1 1)">50</text><text transform="translate(209.44 472) scale(1 1)">60</text><text transform="translate(240.53 472) scale(1 1)">70</text><text transform="translate(271.62 472) scale(1 1)">80</text><text transform="translate(302.71 472) scale(1 1)">90</text></g>
<g font-size="7.7" text-anchor="end"><text transform="translate(20.70 464.90) scale(1 1)">-1</text><text transform="translate(20.70 444.80) scale(1 1)">0</text><text transform="translate(20.70 424.70) scale(1 1)">1</text></g>
<path d="M22.80 526.30v-3M22.80 485.80v3M53.89 526.30v-3M53.89 485.80v3M84.98 526.30v-3M84.98 485.80v3M116.07 526.30v-3M116.07 485.80v3M147.16 526.30v-3M147.16 485.80v3M178.25 526.30v-3M178.25 485.80v3M209.34 526.30v-3M209.34 485.80v3M240.43 526.30v-3M240.43 485.80v3M271.52 526.30v-3M271.52 485.80v3M302.61 526.30v-3M302.61 485.80v3M22.10 526.30h3M324.90 526.30h-3M22.10 506.05h3M324.90 506.05h-3M22.10 485.80h3M324.90 485.80h-3" stroke="#727272" stroke-width="0.6" fill="none"/>
<g fill="#0a78d2" stroke="#051c2c" stroke-width="0.66"><rect x="52.65" y="485.80" width="2.49" height="20.25"/><rect x="55.76" y="485.80" width="2.49" height="20.25"/><rect x="58.86" y="485.80" width="2.49" height="20.25"/><rect x="61.97" y="485.80" width="2.49" height="20.25"/><rect x="65.08" y="485.80" width="2.49" height="20.25"/><rect x="68.19" y="485.80" width="2.49" height="20.25"/><rect x="80.63" y="485.80" width="2.49" height="20.25"/><rect x="121.04" y="485.80" width="2.49" height="20.25"/><rect x="124.15" y="485.80" width="2.49" height="20.25"/><rect x="155.24" y="485.80" width="2.49" height="20.25"/><rect x="158.35" y="485.80" width="2.49" height="20.25"/><rect x="161.46" y="485.80" width="2.49" height="20.25"/><rect x="170.79" y="485.80" width="2.49" height="20.25"/><rect x="173.90" y="485.80" width="2.49" height="20.25"/><rect x="177.01" y="485.80" width="2.49" height="20.25"/><rect x="180.12" y="485.80" width="2.49" height="20.25"/><rect x="24.67" y="506.05" width="2.49" height="20.25"/><rect x="27.77" y="506.05" width="2.49" height="20.25"/><rect x="30.88" y="506.05" width="2.49" height="20.25"/><rect x="33.99" y="506.05" width="2.49" height="20.25"/><rect x="37.10" y="506.05" width="2.49" height="20.25"/><rect x="40.21" y="506.05" width="2.49" height="20.25"/><rect x="43.32" y="506.05" width="2.49" height="20.25"/><rect x="46.43" y="506.05" width="2.49" height="20.25"/><rect x="49.54" y="506.05" width="2.49" height="20.25"/><rect x="71.30" y="506.05" width="2.49" height="20.25"/><rect x="74.41" y="506.05" width="2.49" height="20.25"/><rect x="77.52" y="506.05" width="2.49" height="20.25"/><rect x="83.74" y="506.05" width="2.49" height="20.25"/><rect x="86.85" y="506.05" width="2.49" height="20.25"/><rect x="89.95" y="506.05" width="2.49" height="20.25"/><rect x="93.06" y="506.05" width="2.49" height="20.25"/><rect x="96.17" y="506.05" width="2.49" height="20.25"/><rect x="99.28" y="506.05" width="2.49" height="20.25"/><rect x="102.39" y="506.05" width="2.49" height="20.25"/><rect x="105.50" y="506.05" width="2.49" height="20.25"/><rect x="108.61" y="506.05" width="2.49" height="20.25"/><rect x="111.72" y="506.05" width="2.49" height="20.25"/><rect x="114.83" y="506.05" width="2.49" height="20.25"/><rect x="117.94" y="506.05" width="2.49" height="20.25"/><rect x="127.26" y="506.05" width="2.49" height="20.25"/><rect x="130.37" y="506.05" width="2.49" height="20.25"/><rect x="133.48" y="506.05" width="2.49" height="20.25"/><rect x="136.59" y="506.05" width="2.49" height="20.25"/><rect x="139.70" y="506.05" width="2.49" height="20.25"/><rect x="142.81" y="506.05" width="2.49" height="20.25"/><rect x="145.92" y="506.05" width="2.49" height="20.25"/><rect x="149.03" y="506.05" width="2.49" height="20.25"/><rect x="152.13" y="506.05" width="2.49" height="20.25"/><rect x="164.57" y="506.05" width="2.49" height="20.25"/><rect x="167.68" y="506.05" width="2.49" height="20.25"/><rect x="183.22" y="506.05" width="2.49" height="20.25"/><rect x="186.33" y="506.05" width="2.49" height="20.25"/><rect x="189.44" y="506.05" width="2.49" height="20.25"/><rect x="192.55" y="506.05" width="2.49" height="20.25"/><rect x="195.66" y="506.05" width="2.49" height="20.25"/><rect x="198.77" y="506.05" width="2.49" height="20.25"/><rect x="201.88" y="506.05" width="2.49" height="20.25"/><rect x="204.99" y="506.05" width="2.49" height="20.25"/><rect x="208.10" y="506.05" width="2.49" height="20.25"/><rect x="211.21" y="506.05" width="2.49" height="20.25"/><rect x="214.31" y="506.05" width="2.49" height="20.25"/><rect x="217.42" y="506.05" width="2.49" height="20.25"/><rect x="220.53" y="506.05" width="2.49" height="20.25"/><rect x="223.64" y="506.05" width="2.49" height="20.25"/><rect x="226.75" y="506.05" width="2.49" height="20.25"/><rect x="229.86" y="506.05" width="2.49" height="20.25"/><rect x="232.97" y="506.05" width="2.49" height="20.25"/><rect x="236.08" y="506.05" width="2.49" height="20.25"/><rect x="239.19" y="506.05" width="2.49" height="20.25"/><rect x="242.30" y="506.05" width="2.49" height="20.25"/><rect x="245.40" y="506.05" width="2.49" height="20.25"/><rect x="248.51" y="506.05" width="2.49" height="20.25"/><rect x="251.62" y="506.05" width="2.49" height="20.25"/><rect x="254.73" y="506.05" width="2.49" height="20.25"/><rect x="257.84" y="506.05" width="2.49" height="20.25"/><rect x="260.95" y="506.05" width="2.49" height="20.25"/><rect x="264.06" y="506.05" width="2.49" height="20.25"/><rect x="267.17" y="506.05" width="2.49" height="20.25"/><rect x="270.28" y="506.05" width="2.49" height="20.25"/><rect x="273.39" y="506.05" width="2.49" height="20.25"/><rect x="276.49" y="506.05" width="2.49" height="20.25"/><rect x="279.60" y="506.05" width="2.49" height="20.25"/><rect x="282.71" y="506.05" width="2.49" height="20.25"/><rect x="285.82" y="506.05" width="2.49" height="20.25"/><rect x="288.93" y="506.05" width="2.49" height="20.25"/><rect x="292.04" y="506.05" width="2.49" height="20.25"/><rect x="295.15" y="506.05" width="2.49" height="20.25"/><rect x="298.26" y="506.05" width="2.49" height="20.25"/><rect x="301.37" y="506.05" width="2.49" height="20.25"/><rect x="304.48" y="506.05" width="2.49" height="20.25"/><rect x="307.58" y="506.05" width="2.49" height="20.25"/><rect x="310.69" y="506.05" width="2.49" height="20.25"/><rect x="313.80" y="506.05" width="2.49" height="20.25"/><rect x="316.91" y="506.05" width="2.49" height="20.25"/><rect x="320.02" y="506.05" width="2.49" height="20.25"/></g>
<path d="M22.10 506.05H324.90" stroke="#222" stroke-width="0.7" fill="none"/>
<rect x="22.10" y="485.80" width="302.80" height="40.50" fill="none" stroke="#727272" stroke-width="1"/>
<g font-size="7.7" text-anchor="middle"><text transform="translate(22.90 536) scale(1 1)">0</text><text transform="translate(53.99 536) scale(1 1)">10</text><text transform="translate(85.08 536) scale(1 1)">20</text><text transform="translate(116.17 536) scale(1 1)">30</text><text transform="translate(147.26 536) scale(1 1)">40</text><text transform="translate(178.35 536) scale(1 1)">50</text><text transform="translate(209.44 536) scale(1 1)">60</text><text transform="translate(240.53 536) scale(1 1)">70</text><text transform="translate(271.62 536) scale(1 1)">80</text><text transform="translate(302.71 536) scale(1 1)">90</text></g>
<g font-size="7.7" text-anchor="end"><text transform="translate(20.70 529.30) scale(1 1)">-1</text><text transform="translate(20.70 509.05) scale(1 1)">0</text><text transform="translate(20.70 488.80) scale(1 1)">1</text></g>
<g class="t">
<text font-size="8.0" x="112.80" y="7.30" textLength="105.00" lengthAdjust="spacingAndGlyphs">Gas Turbine Starting Strategy</text>
<text font-size="6.47" x="222.30" y="6.65" style="stroke-width:.45px">–</text>
<text font-size="8.0" x="228.40" y="7.30" textLength="16.80" lengthAdjust="spacingAndGlyphs">Ideal</text>
<text font-size="8.0" x="116.90" y="71.50" textLength="97.30" lengthAdjust="spacingAndGlyphs">Heat pump startup strategy</text>
<text font-size="5.94" x="218.20" y="70.85" style="stroke-width:.45px">–</text>
<text font-size="8.0" x="224.60" y="71.50" textLength="15.80" lengthAdjust="spacingAndGlyphs">ideal</text>
<text font-size="8.0" x="112.80" y="134.60" textLength="112.30" lengthAdjust="spacingAndGlyphs">Charging Station Start Strategy</text>
<text font-size="6.47" x="228.30" y="133.95" style="stroke-width:.45px">–</text>
<text font-size="8.0" x="235.40" y="134.60" textLength="15.90" lengthAdjust="spacingAndGlyphs">Ideal</text>
<text font-size="8.0" x="127.60" y="198.40" textLength="86.60" lengthAdjust="spacingAndGlyphs">Load Response Strategy</text>
<text font-size="5.94" x="218.20" y="197.75" style="stroke-width:.45px">–</text>
<text font-size="8.0" x="224.60" y="198.40" textLength="16.30" lengthAdjust="spacingAndGlyphs">Ideal</text>
<text font-size="8.0" x="105.40" y="288.90" textLength="103.80" lengthAdjust="spacingAndGlyphs">Gas Turbine Startup Strategy</text>
<text font-size="7.37" x="212.40" y="288.25" style="stroke-width:.45px">–</text>
<text font-size="8.0" x="219.80" y="288.90" textLength="30.60" lengthAdjust="spacingAndGlyphs">Practical</text>
<text font-size="8.0" x="113.30" y="353.90" textLength="97.60" lengthAdjust="spacingAndGlyphs">Heat pump startup strategy</text>
<text font-size="6.47" x="214.40" y="353.25" style="stroke-width:.45px">–</text>
<text font-size="8.0" x="220.80" y="353.90" textLength="21.10" lengthAdjust="spacingAndGlyphs">actual</text>
<text font-size="8.0" x="109.50" y="417.70" textLength="105.00" lengthAdjust="spacingAndGlyphs">Charging Point Start Strategy</text>
<text font-size="6.47" x="217.80" y="417.05" style="stroke-width:.45px">–</text>
<text font-size="8.0" x="223.90" y="417.70" textLength="22.90" lengthAdjust="spacingAndGlyphs">Actual</text>
<text font-size="8.0" x="109.50" y="483.20" textLength="83.50" lengthAdjust="spacingAndGlyphs">Load response strategy</text>
<text font-size="6.47" x="196.30" y="482.55" style="stroke-width:.45px">–</text>
<text font-size="8.0" x="202.90" y="483.20" textLength="21.60" lengthAdjust="spacingAndGlyphs">actual</text>
<text font-size="8.0" x="151.0" y="261.90000000000003" textLength="45.2" lengthAdjust="spacingAndGlyphs">x(time point)</text>
<text font-size="8.0" x="151.0" y="546.0" textLength="45.2" lengthAdjust="spacingAndGlyphs">x(time point)</text>
<text font-size="7.9" transform="translate(11.4 251.3) rotate(-90)" textLength="55.8" lengthAdjust="spacingAndGlyphs">y(start strategy)</text>
<text font-size="7.9" transform="translate(11.4 534.3) rotate(-90)" textLength="55.8" lengthAdjust="spacingAndGlyphs">y(start strategy)</text>
</g>
</svg>
</body></html>
